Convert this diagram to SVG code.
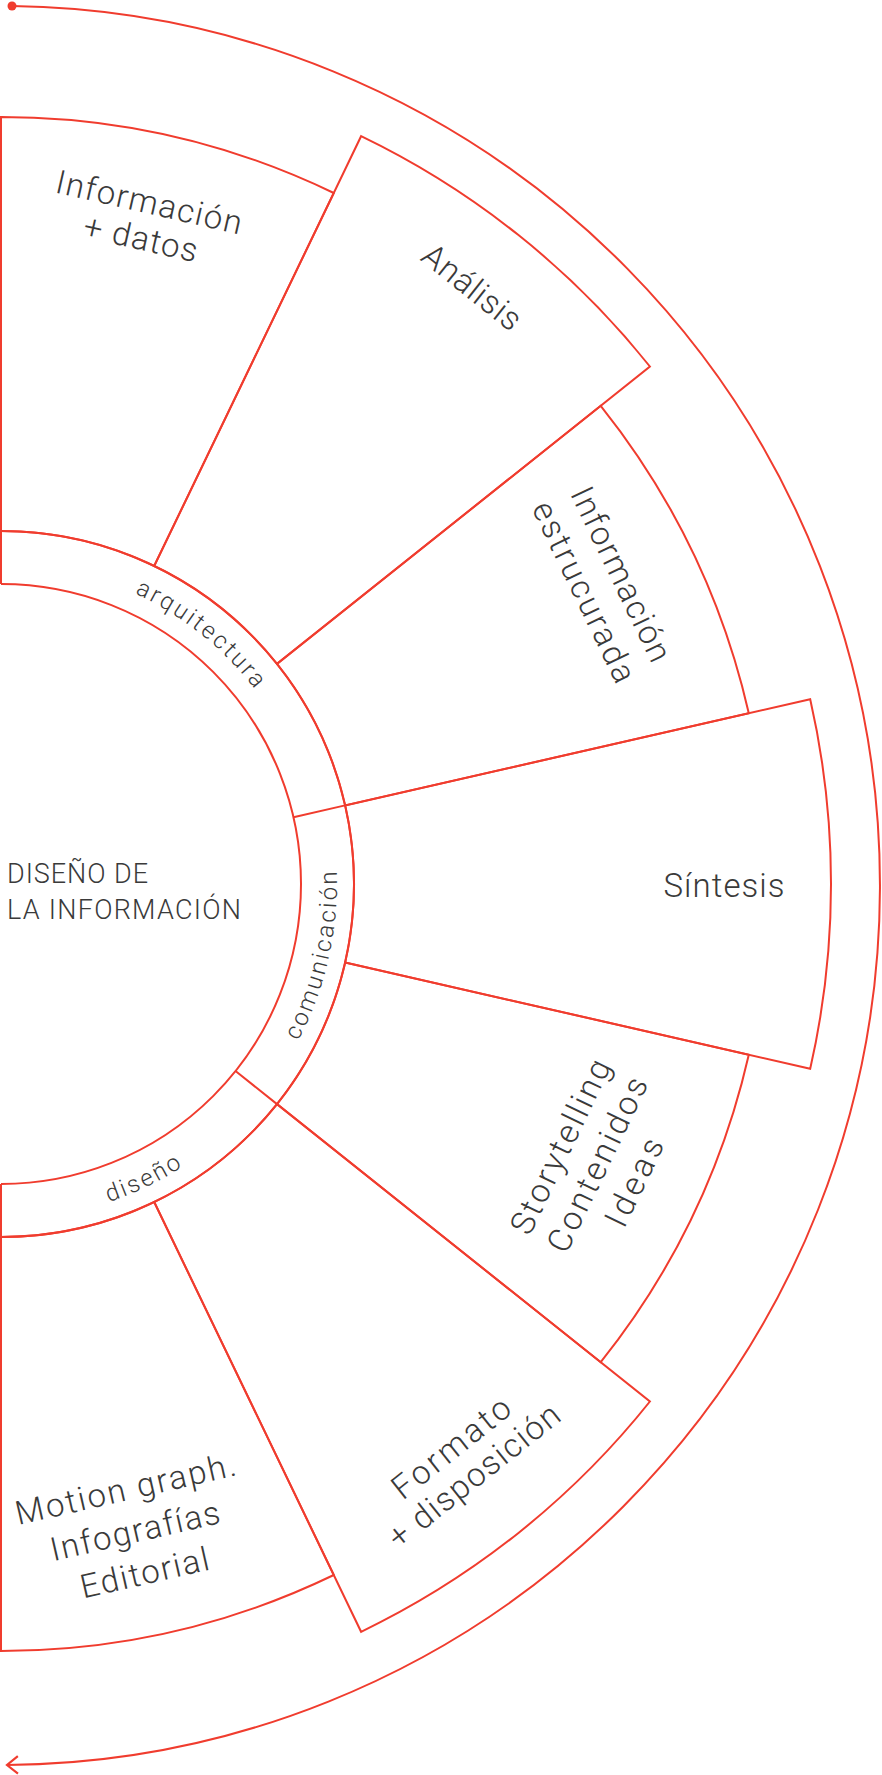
<svg xmlns="http://www.w3.org/2000/svg" width="882" height="1775" viewBox="0 0 882 1775">
<defs>
<style>
.ln{fill:none;stroke:#f03c2e;stroke-width:2;stroke-linejoin:miter}
.lbl{font-family:"Roboto","Open Sans","Liberation Sans",sans-serif;font-weight:300;font-size:33px;fill:#3a3a3a;text-anchor:middle}
.ring{font-family:"Roboto","Open Sans","Liberation Sans",sans-serif;font-weight:300;font-size:24px;fill:#3a3a3a;text-anchor:middle}
.ctr{font-family:"Roboto","Open Sans","Liberation Sans",sans-serif;font-weight:300;font-size:27px;fill:#3a3a3a}
</style>
<marker id="arrow" markerUnits="userSpaceOnUse" markerWidth="24" markerHeight="24" viewBox="-13 -11 16 22" refX="0" refY="0" orient="auto" overflow="visible">
<path d="M-10,-8 L0,0 L-10,8" fill="none" stroke="#f03c2e" stroke-width="2"/>
</marker>
<path id="pArq" d="M47.7,567.6 A320,320 0 0 1 297.9,767.1"/>
<path id="pCom" d="M246.3,1112.5 A336,336 0 0 0 321.1,785.0"/>
<path id="pDis" d="M4.2,1220.0 A336,336 0 0 0 260.0,1096.8"/>
</defs>
<g transform="translate(1,0)">
<g id="connectors">
<path class="ln" d="M11,6.1 A879.5,879.5 0 0 1 6,1765" marker-end="url(#arrow)"/>
<circle cx="11" cy="6" r="4.5" fill="#f03c2e"/>
</g>
<g id="ring">
<path class="ln" d="M0,584 A300,300 0 0 1 0,1184"/>
<path class="ln" d="M0,531 A353,353 0 0 1 0,1237"/>
<path class="ln" d="M0,531 L0,584 M0,1184 L0,1237"/>
<path class="ln" d="M344.1,805.4 L292.5,817.2 M276.0,1104.1 L234.5,1071.0"/>
</g>
<g id="arquitectura"><text class="ring"><textPath href="#pArq" startOffset="50%" textLength="155">arquitectura</textPath></text></g>
<g id="comunicacion"><text class="ring"><textPath href="#pCom" startOffset="50%" textLength="176">comunicación</textPath></text></g>
<g id="diseno"><text class="ring"><textPath href="#pDis" startOffset="50%" textLength="82">diseño</textPath></text></g>
<g id="centro">
<text class="ctr" x="6" y="883" textLength="141">DISEÑO DE</text>
<text class="ctr" x="6" y="919" textLength="234">LA INFORMACIÓN</text>
</g>
<g id="s1">
<path class="ln" d="M0,531 L0,117 A767,767 0 0 1 332.8,193.0 L153.2,566.0 A353,353 0 0 0 0,531 Z"/>
<g transform="translate(145.5,213.3) rotate(12.86)">
<text class="lbl" x="0" y="0" textLength="190">Información</text>
<text class="lbl" x="0" y="37" textLength="116">+ datos</text>
</g>
</g>
<g id="s2">
<path class="ln" d="M153.2,566.0 L360.1,136.2 A830,830 0 0 1 648.9,366.5 L276.0,663.9 A353,353 0 0 0 153.2,566.0 Z"/>
<g transform="translate(464,296) rotate(38.57)">
<text class="lbl" x="0" y="0" textLength="117">Análisis</text>
</g>
</g>
<g id="s3">
<path class="ln" d="M276.0,663.9 L599.7,405.8 A767,767 0 0 1 747.8,713.3 L344.1,805.4 A353,353 0 0 0 276.0,663.9 Z"/>
<g transform="translate(610,579) rotate(64.29)">
<text class="lbl" x="0" y="0" textLength="190">Información</text>
<text class="lbl" x="0" y="41" textLength="197">estrucurada</text>
</g>
</g>
<g id="s4">
<path class="ln" d="M344.1,805.4 L809.2,699.3 A830,830 0 0 1 809.2,1068.7 L344.1,962.5 A353,353 0 0 0 344.1,805.4 Z"/>
<text class="lbl" x="723" y="896.6" textLength="121">Síntesis</text>
</g>
<g id="s5">
<path class="ln" d="M344.1,962.5 L747.8,1054.7 A767,767 0 0 1 599.7,1362.2 L276.0,1104.1 A353,353 0 0 0 344.1,962.5 Z"/>
<g transform="translate(569.6,1151.5) rotate(-64.29)">
<text class="lbl" x="0" y="0" textLength="190">Storytelling</text>
<text class="lbl" x="0" y="41" textLength="190">Contenidos</text>
<text class="lbl" x="0" y="82" textLength="94">Ideas</text>
</g>
</g>
<g id="s6">
<path class="ln" d="M276.0,1104.1 L648.9,1401.5 A830,830 0 0 1 360.1,1631.8 L153.2,1202.0 A353,353 0 0 0 276.0,1104.1 Z"/>
<g transform="translate(457.3,1456.5) rotate(-38.57)">
<text class="lbl" x="0" y="0" textLength="142">Formato</text>
<text class="lbl" x="0" y="36" textLength="210">+ disposición</text>
</g>
</g>
<g id="s7">
<path class="ln" d="M153.2,1202.0 L332.8,1575.0 A767,767 0 0 1 0,1651 L0,1237 A353,353 0 0 0 153.2,1202.0 Z"/>
<g transform="translate(127,1500) rotate(-12.86)">
<text class="lbl" x="0" y="0" textLength="225">Motion graph.</text>
<text class="lbl" x="0" y="43" textLength="173">Infografías</text>
<text class="lbl" x="0" y="86" textLength="131">Editorial</text>
</g>
</g>
</g>
</svg>
